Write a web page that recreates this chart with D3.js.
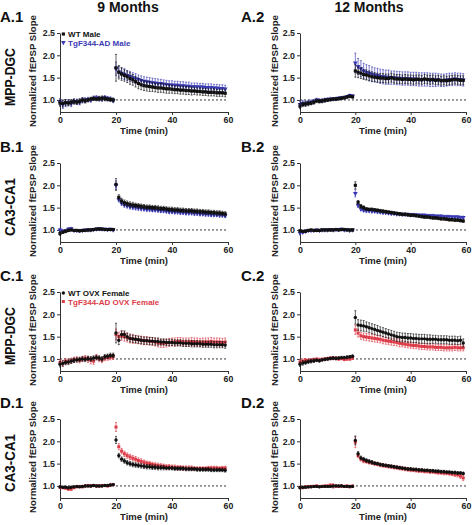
<!DOCTYPE html>
<html>
<head>
<meta charset="utf-8">
<script src="https://cdn.jsdelivr.net/npm/d3@7"></script>
<style>
  body { margin: 0; background: #fff; }
  text { font-family: "Liberation Sans", Arial, sans-serif; font-weight: bold; }
</style>
</head>
<body>
<svg id="fig" width="474" height="525"></svg>
<script>
// time points (min): 20 baseline + 40 after tetanus
const minutes = [
  0,1,2,3,4,5,6,7,8,9,
  10,11,12,13,14,15,16,17,18,19,
  20,21,22,23,24,25,26,27,28,29,
  30,31,32,33,34,35,36,37,38,39,
  40,41,42,43,44,45,46,47,48,49,
  50,51,52,53,54,55,56,57,58,59
];
const xTicks = [0, 20, 40, 60];
const yTicks = [1.0, 1.5, 2.0, 2.5];
const columnTitles = ["9 Months", "12 Months"];
const rowTitles = ["MPP-DGC", "CA3-CA1", "MPP-DGC", "CA3-CA1"];
const maleLegend = ["WT Male", "TgF344-AD Male"];
const femaleLegend = ["WT OVX Female", "TgF344-AD OVX Female"];

// ---- A.1  9 months, MPP-DGC, males
const a1Wt = [
  0.93,0.92,0.94,0.93,0.95,0.96,0.95,0.97,1.00,0.98,
  1.00,1.02,1.03,1.02,1.03,1.04,1.03,1.02,1.01,1.00,
  1.72,1.62,1.58,1.55,1.52,1.48,1.45,1.41,1.37,1.34,
  1.32,1.31,1.30,1.29,1.28,1.27,1.27,1.26,1.25,1.25,
  1.24,1.23,1.23,1.22,1.22,1.21,1.21,1.20,1.20,1.19,
  1.19,1.18,1.18,1.17,1.17,1.17,1.16,1.16,1.16,1.15
];
const a1WtSem = [
  0.07,0.08,0.07,0.06,0.06,0.05,0.05,0.06,0.05,0.05,
  0.04,0.04,0.04,0.04,0.05,0.05,0.05,0.04,0.04,0.04,
  0.30,0.15,0.14,0.13,0.13,0.13,0.12,0.12,0.12,0.11,
  0.11,0.11,0.11,0.10,0.10,0.10,0.10,0.10,0.10,0.10,
  0.09,0.09,0.09,0.09,0.09,0.09,0.09,0.09,0.08,0.08,
  0.08,0.08,0.08,0.08,0.08,0.08,0.08,0.08,0.08,0.08
];
const a1Tg = [
  0.95,0.90,0.93,0.94,0.92,0.97,0.96,0.95,0.99,1.00,
  1.01,1.00,1.04,1.05,1.03,1.02,1.05,1.03,1.02,0.99,
  1.70,1.63,1.60,1.58,1.55,1.53,1.50,1.48,1.46,1.44,
  1.42,1.41,1.40,1.39,1.38,1.37,1.37,1.36,1.35,1.34,
  1.34,1.33,1.33,1.32,1.32,1.31,1.31,1.30,1.30,1.30,
  1.29,1.29,1.28,1.28,1.28,1.27,1.27,1.26,1.26,1.25
];
const a1TgSem = [
  0.08,0.09,0.08,0.07,0.07,0.06,0.06,0.06,0.06,0.05,
  0.05,0.05,0.05,0.05,0.05,0.05,0.05,0.05,0.05,0.05,
  0.15,0.12,0.12,0.12,0.11,0.11,0.11,0.11,0.10,0.10,
  0.10,0.10,0.10,0.10,0.10,0.10,0.09,0.09,0.09,0.09,
  0.09,0.09,0.09,0.09,0.09,0.09,0.09,0.08,0.08,0.08,
  0.08,0.08,0.08,0.08,0.08,0.08,0.08,0.08,0.08,0.08
];

// ---- A.2  12 months, MPP-DGC, males
const a2Wt = [
  0.86,0.90,0.91,0.92,0.93,0.95,0.98,0.97,0.98,0.99,
  1.00,1.01,1.02,1.02,1.03,1.04,1.05,1.07,1.08,1.07,
  1.65,1.62,1.60,1.57,1.56,1.54,1.52,1.51,1.50,1.49,
  1.49,1.48,1.48,1.50,1.48,1.47,1.47,1.46,1.47,1.46,
  1.46,1.45,1.46,1.46,1.45,1.47,1.46,1.45,1.46,1.44,
  1.45,1.43,1.44,1.43,1.44,1.45,1.46,1.45,1.44,1.44
];
const a2WtSem = [
  0.06,0.05,0.05,0.05,0.04,0.04,0.04,0.04,0.04,0.04,
  0.03,0.03,0.03,0.03,0.03,0.03,0.03,0.03,0.03,0.03,
  0.14,0.12,0.12,0.11,0.11,0.11,0.11,0.10,0.10,0.10,
  0.10,0.10,0.10,0.10,0.10,0.10,0.10,0.10,0.10,0.10,
  0.10,0.10,0.10,0.10,0.10,0.10,0.10,0.10,0.10,0.10,
  0.10,0.10,0.10,0.10,0.10,0.10,0.10,0.10,0.10,0.10
];
const a2Tg = [
  0.90,0.93,0.92,0.94,0.95,0.96,1.00,0.99,0.98,1.00,
  1.01,1.02,1.02,1.03,1.04,1.05,1.06,1.07,1.10,1.09,
  1.83,1.75,1.70,1.65,1.62,1.60,1.58,1.56,1.55,1.53,
  1.52,1.51,1.51,1.50,1.50,1.49,1.49,1.48,1.48,1.48,
  1.47,1.47,1.47,1.46,1.46,1.46,1.46,1.45,1.45,1.45,
  1.45,1.44,1.44,1.45,1.46,1.46,1.47,1.46,1.46,1.45
];
const a2TgSem = [
  0.07,0.06,0.06,0.05,0.05,0.05,0.04,0.04,0.04,0.04,
  0.04,0.04,0.03,0.03,0.03,0.03,0.03,0.03,0.03,0.03,
  0.22,0.18,0.18,0.17,0.17,0.17,0.16,0.16,0.16,0.16,
  0.16,0.16,0.16,0.15,0.15,0.15,0.15,0.15,0.15,0.15,
  0.15,0.15,0.15,0.15,0.15,0.15,0.15,0.15,0.15,0.15,
  0.14,0.14,0.14,0.14,0.14,0.14,0.14,0.14,0.14,0.14
];

// ---- B.1  9 months, CA3-CA1, males
const b1Wt = [
  0.92,0.95,0.97,0.99,1.00,0.99,0.99,0.98,0.99,0.99,
  1.00,1.00,1.01,1.02,1.02,1.02,1.01,1.01,1.01,1.01,
  2.02,1.73,1.65,1.61,1.59,1.57,1.56,1.55,1.54,1.53,
  1.52,1.51,1.51,1.50,1.50,1.49,1.48,1.48,1.47,1.46,
  1.46,1.45,1.45,1.44,1.44,1.43,1.43,1.43,1.42,1.42,
  1.41,1.41,1.40,1.40,1.39,1.39,1.38,1.38,1.37,1.36
];
const b1WtSem = [
  0.04,0.03,0.03,0.03,0.02,0.02,0.02,0.02,0.02,0.02,
  0.02,0.02,0.02,0.02,0.02,0.02,0.02,0.02,0.02,0.02,
  0.13,0.06,0.06,0.06,0.06,0.06,0.06,0.05,0.05,0.05,
  0.05,0.05,0.05,0.05,0.05,0.05,0.05,0.05,0.05,0.05,
  0.05,0.05,0.05,0.05,0.05,0.05,0.05,0.05,0.05,0.05,
  0.05,0.05,0.05,0.05,0.05,0.05,0.05,0.05,0.05,0.05
];
const b1Tg = [
  1.00,0.97,0.98,1.02,1.03,0.99,0.99,0.99,0.99,1.00,
  1.00,1.00,1.01,1.02,1.03,1.02,1.02,1.01,1.02,1.00,
  2.00,1.68,1.60,1.56,1.54,1.52,1.51,1.50,1.49,1.48,
  1.47,1.46,1.46,1.45,1.45,1.44,1.43,1.43,1.42,1.41,
  1.41,1.40,1.40,1.39,1.39,1.38,1.38,1.38,1.37,1.37,
  1.36,1.36,1.35,1.35,1.34,1.34,1.34,1.33,1.33,1.32
];
const b1TgSem = [
  0.04,0.04,0.03,0.03,0.03,0.02,0.02,0.02,0.02,0.02,
  0.02,0.02,0.02,0.02,0.02,0.02,0.02,0.02,0.02,0.02,
  0.10,0.05,0.05,0.05,0.05,0.05,0.05,0.05,0.05,0.05,
  0.04,0.04,0.04,0.04,0.04,0.04,0.04,0.04,0.04,0.04,
  0.04,0.04,0.04,0.04,0.04,0.04,0.04,0.04,0.04,0.04,
  0.04,0.04,0.04,0.04,0.04,0.04,0.04,0.04,0.04,0.04
];

// ---- B.2  12 months, CA3-CA1, males
const b2Wt = [
  0.98,0.97,0.97,0.99,1.00,0.99,0.99,0.99,1.00,1.00,
  1.00,1.00,1.00,1.01,1.00,1.01,1.01,1.00,1.00,1.00,
  2.00,1.62,1.53,1.50,1.47,1.46,1.46,1.45,1.44,1.43,
  1.42,1.41,1.40,1.39,1.38,1.37,1.36,1.35,1.35,1.34,
  1.33,1.33,1.32,1.31,1.30,1.29,1.29,1.28,1.27,1.27,
  1.26,1.25,1.25,1.24,1.23,1.23,1.22,1.22,1.21,1.20
];
const b2WtSem = [
  0.03,0.02,0.02,0.02,0.02,0.02,0.02,0.02,0.02,0.02,
  0.02,0.02,0.02,0.02,0.02,0.02,0.02,0.02,0.02,0.02,
  0.08,0.04,0.04,0.04,0.03,0.03,0.03,0.03,0.03,0.03,
  0.03,0.03,0.03,0.03,0.03,0.03,0.03,0.03,0.03,0.03,
  0.03,0.03,0.03,0.03,0.03,0.03,0.03,0.03,0.03,0.03,
  0.03,0.03,0.03,0.03,0.03,0.03,0.03,0.03,0.03,0.03
];
const b2Tg = [
  0.93,0.95,0.97,0.99,0.99,0.99,1.00,0.99,1.00,1.00,
  1.00,1.01,1.00,1.01,1.01,1.02,1.00,1.01,0.99,1.00,
  1.82,1.55,1.47,1.44,1.43,1.43,1.42,1.42,1.41,1.40,
  1.39,1.39,1.38,1.37,1.37,1.36,1.36,1.35,1.35,1.35,
  1.34,1.34,1.34,1.33,1.33,1.33,1.32,1.32,1.32,1.31,
  1.31,1.31,1.30,1.30,1.30,1.29,1.29,1.29,1.28,1.28
];
const b2TgSem = [
  0.04,0.03,0.03,0.02,0.02,0.02,0.02,0.02,0.02,0.02,
  0.02,0.02,0.02,0.02,0.02,0.02,0.02,0.02,0.02,0.02,
  0.08,0.04,0.04,0.03,0.03,0.03,0.03,0.03,0.03,0.03,
  0.03,0.03,0.03,0.03,0.03,0.03,0.03,0.03,0.03,0.03,
  0.03,0.03,0.03,0.03,0.03,0.03,0.03,0.03,0.03,0.03,
  0.03,0.03,0.03,0.03,0.03,0.03,0.03,0.03,0.03,0.03
];

// ---- C.1  9 months, MPP-DGC, OVX females
const c1Wt = [
  0.88,0.90,0.92,0.93,0.95,0.97,0.98,0.99,1.00,0.99,
  1.01,1.00,1.02,1.03,1.02,1.00,1.05,1.06,1.08,1.08,
  1.58,1.42,1.55,1.55,1.50,1.46,1.45,1.44,1.43,1.42,
  1.41,1.41,1.40,1.40,1.39,1.39,1.38,1.38,1.37,1.37,
  1.37,1.36,1.36,1.36,1.35,1.35,1.35,1.34,1.34,1.34,
  1.34,1.33,1.33,1.33,1.33,1.32,1.32,1.32,1.32,1.31
];
const c1WtSem = [
  0.06,0.06,0.05,0.05,0.05,0.05,0.05,0.05,0.05,0.05,
  0.05,0.05,0.05,0.05,0.05,0.05,0.05,0.05,0.05,0.05,
  0.22,0.10,0.08,0.08,0.08,0.08,0.08,0.08,0.08,0.08,
  0.08,0.08,0.08,0.08,0.08,0.08,0.07,0.07,0.07,0.07,
  0.07,0.07,0.07,0.07,0.07,0.07,0.07,0.07,0.07,0.07,
  0.07,0.07,0.07,0.07,0.07,0.07,0.07,0.07,0.07,0.07
];
const c1Tg = [
  0.92,0.90,0.95,0.94,0.96,0.98,0.99,0.97,1.00,1.02,
  0.99,0.97,0.95,1.04,1.00,0.98,1.02,1.03,1.04,1.05,
  1.55,1.50,1.52,1.50,1.48,1.46,1.45,1.44,1.43,1.42,
  1.41,1.41,1.40,1.39,1.38,1.36,1.35,1.35,1.36,1.37,
  1.38,1.38,1.39,1.39,1.38,1.38,1.38,1.39,1.38,1.38,
  1.37,1.38,1.38,1.38,1.39,1.38,1.38,1.38,1.37,1.38
];
const c1TgSem = [
  0.06,0.07,0.06,0.06,0.06,0.06,0.06,0.06,0.06,0.06,
  0.07,0.08,0.07,0.06,0.06,0.06,0.06,0.06,0.06,0.06,
  0.12,0.10,0.10,0.10,0.10,0.10,0.10,0.09,0.09,0.09,
  0.09,0.09,0.09,0.09,0.09,0.09,0.09,0.09,0.09,0.09,
  0.09,0.09,0.09,0.09,0.09,0.09,0.09,0.09,0.09,0.09,
  0.09,0.09,0.09,0.09,0.09,0.09,0.09,0.09,0.09,0.09
];

// ---- C.2  12 months, MPP-DGC, OVX females
const c2Wt = [
  0.88,0.91,0.92,0.94,0.95,0.96,0.97,0.96,0.98,0.99,
  1.00,1.01,1.02,1.01,1.02,1.03,1.03,1.04,1.05,1.06,
  1.93,1.76,1.75,1.74,1.72,1.70,1.68,1.66,1.64,1.62,
  1.60,1.58,1.56,1.54,1.52,1.50,1.49,1.48,1.48,1.47,
  1.47,1.46,1.46,1.45,1.45,1.45,1.44,1.44,1.44,1.44,
  1.43,1.43,1.43,1.43,1.42,1.42,1.42,1.41,1.42,1.36
];
const c2WtSem = [
  0.05,0.05,0.04,0.04,0.04,0.04,0.03,0.03,0.03,0.03,
  0.03,0.03,0.03,0.03,0.03,0.03,0.03,0.03,0.03,0.03,
  0.15,0.12,0.12,0.12,0.11,0.11,0.11,0.11,0.11,0.10,
  0.10,0.10,0.10,0.10,0.10,0.10,0.10,0.10,0.10,0.10,
  0.10,0.10,0.10,0.10,0.10,0.10,0.10,0.10,0.09,0.09,
  0.09,0.09,0.09,0.09,0.09,0.09,0.09,0.09,0.09,0.09
];
const c2Tg = [
  0.93,0.95,0.97,0.96,0.97,0.98,0.99,0.98,0.99,1.00,
  1.01,1.02,1.01,1.02,1.00,1.01,0.99,1.00,1.00,1.02,
  1.65,1.58,1.52,1.50,1.49,1.48,1.47,1.46,1.45,1.44,
  1.42,1.41,1.40,1.39,1.38,1.37,1.35,1.34,1.33,1.32,
  1.31,1.30,1.30,1.29,1.28,1.28,1.27,1.27,1.27,1.26,
  1.26,1.26,1.25,1.25,1.25,1.25,1.26,1.25,1.25,1.25
];
const c2TgSem = [
  0.05,0.05,0.04,0.04,0.04,0.04,0.04,0.04,0.03,0.03,
  0.03,0.03,0.03,0.03,0.03,0.03,0.03,0.03,0.03,0.03,
  0.10,0.09,0.08,0.08,0.08,0.08,0.08,0.08,0.08,0.08,
  0.08,0.08,0.08,0.08,0.08,0.08,0.08,0.07,0.07,0.07,
  0.07,0.07,0.07,0.07,0.07,0.07,0.07,0.07,0.07,0.07,
  0.07,0.07,0.07,0.07,0.07,0.07,0.07,0.07,0.07,0.07
];

// ---- D.1  9 months, CA3-CA1, OVX females
const d1Wt = [
  0.98,0.97,0.97,0.96,0.97,0.98,0.99,0.98,0.99,1.00,
  1.00,1.00,1.01,1.00,1.00,1.00,1.01,1.01,1.02,1.03,
  2.03,1.68,1.60,1.56,1.52,1.50,1.48,1.47,1.46,1.45,
  1.44,1.43,1.43,1.42,1.42,1.41,1.41,1.41,1.40,1.40,
  1.40,1.39,1.39,1.39,1.39,1.38,1.38,1.38,1.38,1.37,
  1.37,1.37,1.37,1.37,1.36,1.36,1.36,1.36,1.36,1.35
];
const d1WtSem = [
  0.02,0.02,0.02,0.02,0.02,0.02,0.02,0.02,0.02,0.02,
  0.02,0.02,0.02,0.02,0.02,0.02,0.02,0.02,0.02,0.02,
  0.08,0.05,0.05,0.05,0.05,0.05,0.05,0.05,0.05,0.05,
  0.05,0.05,0.05,0.05,0.05,0.05,0.05,0.05,0.04,0.04,
  0.04,0.04,0.04,0.04,0.04,0.04,0.04,0.04,0.04,0.04,
  0.04,0.04,0.04,0.04,0.04,0.04,0.04,0.04,0.04,0.04
];
const d1Tg = [
  0.97,0.96,0.95,0.93,0.93,0.96,0.98,0.99,0.98,1.00,
  1.01,1.00,1.01,1.00,1.00,1.01,1.01,1.00,1.02,1.03,
  2.32,1.88,1.78,1.72,1.68,1.65,1.62,1.60,1.57,1.55,
  1.53,1.51,1.50,1.48,1.47,1.46,1.45,1.44,1.43,1.43,
  1.42,1.42,1.41,1.41,1.40,1.40,1.40,1.40,1.39,1.39,
  1.39,1.39,1.39,1.40,1.40,1.40,1.40,1.39,1.40,1.40
];
const d1TgSem = [
  0.02,0.02,0.02,0.03,0.03,0.02,0.02,0.02,0.02,0.02,
  0.02,0.02,0.02,0.02,0.02,0.02,0.02,0.02,0.02,0.02,
  0.10,0.07,0.06,0.06,0.06,0.06,0.06,0.06,0.06,0.06,
  0.05,0.05,0.05,0.05,0.05,0.05,0.05,0.05,0.05,0.05,
  0.05,0.05,0.05,0.05,0.05,0.05,0.05,0.05,0.04,0.04,
  0.04,0.04,0.04,0.04,0.04,0.04,0.04,0.04,0.04,0.04
];

// ---- D.2  12 months, CA3-CA1, OVX females
const d2Wt = [
  0.96,0.97,0.97,0.98,0.98,0.99,0.99,0.98,0.99,0.99,
  0.99,0.99,1.00,1.00,1.00,1.00,0.99,0.99,0.99,0.99,
  2.02,1.72,1.63,1.60,1.57,1.55,1.53,1.51,1.50,1.48,
  1.47,1.46,1.45,1.44,1.43,1.42,1.41,1.40,1.39,1.38,
  1.38,1.37,1.37,1.36,1.36,1.35,1.35,1.34,1.34,1.33,
  1.33,1.32,1.32,1.31,1.31,1.30,1.30,1.29,1.29,1.28
];
const d2WtSem = [
  0.02,0.02,0.02,0.02,0.02,0.02,0.02,0.02,0.02,0.02,
  0.02,0.02,0.02,0.02,0.02,0.02,0.02,0.02,0.02,0.02,
  0.10,0.05,0.04,0.04,0.04,0.04,0.04,0.03,0.03,0.03,
  0.03,0.03,0.03,0.03,0.03,0.03,0.03,0.03,0.03,0.03,
  0.03,0.03,0.03,0.03,0.03,0.03,0.03,0.03,0.03,0.03,
  0.03,0.03,0.03,0.03,0.03,0.03,0.03,0.03,0.03,0.03
];
const d2Tg = [
  0.97,0.96,0.98,0.98,0.99,0.99,1.00,0.99,0.99,1.00,
  1.00,1.02,1.00,1.00,0.99,1.00,0.99,1.00,0.98,1.00,
  1.98,1.68,1.60,1.56,1.55,1.53,1.52,1.50,1.49,1.47,
  1.46,1.45,1.44,1.43,1.42,1.41,1.40,1.39,1.38,1.37,
  1.36,1.36,1.35,1.34,1.34,1.33,1.33,1.32,1.32,1.31,
  1.30,1.30,1.29,1.29,1.28,1.27,1.26,1.25,1.22,1.18
];
const d2TgSem = [
  0.02,0.02,0.02,0.02,0.02,0.02,0.02,0.02,0.02,0.02,
  0.02,0.02,0.05,0.02,0.02,0.02,0.02,0.02,0.02,0.02,
  0.12,0.05,0.04,0.04,0.04,0.04,0.04,0.04,0.04,0.04,
  0.04,0.04,0.04,0.04,0.04,0.04,0.04,0.04,0.04,0.04,
  0.04,0.04,0.04,0.04,0.04,0.04,0.04,0.04,0.04,0.04,
  0.04,0.04,0.04,0.04,0.04,0.04,0.05,0.05,0.05,0.06
];

const BLUE = "#3a3ab4";
const RED = "#dd3b47";

const svg = d3.select("#fig");
const colX = [[60, 228], [300, 466]];   // pixel range of 0..60 min per column
const rowTop = [33, 163, 292, 419];      // pixel y of 2.5 per row

const panels = [
  { label: "A.1", row: 0, col: 0, wt: a1Wt, wtSem: a1WtSem, tg: a1Tg, tgSem: a1TgSem, sex: "m", legend: maleLegend },
  { label: "A.2", row: 0, col: 1, wt: a2Wt, wtSem: a2WtSem, tg: a2Tg, tgSem: a2TgSem, sex: "m" },
  { label: "B.1", row: 1, col: 0, wt: b1Wt, wtSem: b1WtSem, tg: b1Tg, tgSem: b1TgSem, sex: "m" },
  { label: "B.2", row: 1, col: 1, wt: b2Wt, wtSem: b2WtSem, tg: b2Tg, tgSem: b2TgSem, sex: "m" },
  { label: "C.1", row: 2, col: 0, wt: c1Wt, wtSem: c1WtSem, tg: c1Tg, tgSem: c1TgSem, sex: "f", legend: femaleLegend },
  { label: "C.2", row: 2, col: 1, wt: c2Wt, wtSem: c2WtSem, tg: c2Tg, tgSem: c2TgSem, sex: "f" },
  { label: "D.1", row: 3, col: 0, wt: d1Wt, wtSem: d1WtSem, tg: d1Tg, tgSem: d1TgSem, sex: "f" },
  { label: "D.2", row: 3, col: 1, wt: d2Wt, wtSem: d2WtSem, tg: d2Tg, tgSem: d2TgSem, sex: "f" }
];

// marker styles per sex: WT always black, Tg blue (males) or red (females)
const markers = {
  m: { wt: { sym: d3.symbolSquare, size: 10, rot: 0, color: "#111" },
       tg: { sym: d3.symbolTriangle, size: 10, rot: 180, color: BLUE } },
  f: { wt: { sym: d3.symbolCircle, size: 9, rot: 0, color: "#111" },
       tg: { sym: d3.symbolSquare, size: 9, rot: 0, color: RED } }
};

let drawSeries = (g, x, y, means, sems, mk) => {
  const pts = minutes.map((t, i) => ({ t, m: means[i], s: sems[i] }));
  const bars = g.append("g")
    .attr("stroke", mk.color)
    .attr("stroke-width", 0.65);
  bars.selectAll(".eb")
    .data(pts)
    .enter()
    .append("path")
    .attr("class", "eb")
    .attr("fill", "none")
    .attr("d", d => {
      const cx = x(d.t), y0 = y(d.m - d.s), y1 = y(d.m + d.s);
      return `M${cx},${y0}V${y1}M${cx - 1},${y1}H${cx + 1}M${cx - 1},${y0}H${cx + 1}`;
    });
  g.append("g").selectAll(".pt")
    .data(pts)
    .enter()
    .append("path")
    .attr("class", "pt")
    .attr("d", d3.symbol().type(mk.sym).size(mk.size))
    .attr("transform", d => `translate(${x(d.t)},${y(d.m)}) rotate(${mk.rot})`)
    .attr("fill", mk.color);
};

panels.forEach(p => {
  const top = rowTop[p.row];
  const x = d3.scaleLinear().domain([0, 60]).range(colX[p.col]);
  const y = d3.scaleLinear().domain([0.73, 2.5]).range([top + 79, top]);
  const g = svg.append("g");

  // dashed baseline at 1.0
  g.append("line")
    .attr("x1", x(0)).attr("x2", x(60))
    .attr("y1", y(1)).attr("y2", y(1))
    .attr("stroke", "#222")
    .attr("stroke-width", 0.9)
    .attr("stroke-dasharray", "2,2");

  const xAxis = g.append("g")
    .attr("transform", `translate(0,${y(0.73)})`)
    .call(d3.axisBottom(x).tickValues(xTicks).tickSize(3).tickSizeOuter(0).tickPadding(2).tickFormat(d3.format("d")));
  const yAxis = g.append("g")
    .attr("transform", `translate(${x(0)},0)`)
    .call(d3.axisLeft(y).tickValues(yTicks).tickSize(3).tickSizeOuter(0).tickPadding(2).tickFormat(d3.format(".1f")));
  [xAxis, yAxis].forEach(a => {
    a.attr("font-family", null).attr("font-size", null);
    a.selectAll("path, line").attr("stroke", "#333").attr("stroke-width", 1);
    a.selectAll("text").attr("fill", "#222").style("font-size", "8.8px");
  });

  drawSeries(g, x, y, p.tg, p.tgSem, markers[p.sex].tg);
  drawSeries(g, x, y, p.wt, p.wtSem, markers[p.sex].wt);

  // axis titles
  g.append("text")
    .attr("x", (x(0) + x(60)) / 2)
    .attr("y", top + 101)
    .attr("text-anchor", "middle")
    .style("font-size", "9.5px")
    .attr("fill", "#222")
    .text("Time (min)");
  const yl = p.col === 0 ? 36 : 278;
  g.append("text")
    .attr("transform", `translate(${yl},${top + 38}) rotate(-90)`)
    .attr("text-anchor", "middle")
    .style("font-size", "9.6px")
    .attr("fill", "#222")
    .text("Normalized fEPSP Slope");

  // panel label
  g.append("text")
    .attr("x", p.col === 0 ? 0 : 241)
    .attr("y", top - 11)
    .style("font-size", "15px")
    .attr("fill", "#111")
    .text(p.label);

  // legend
  if (p.legend) {
    const mk = markers[p.sex];
    [mk.wt, mk.tg].forEach((m, i) => {
      const ly = top + 1 + i * 8.5;
      g.append("path")
        .attr("d", d3.symbol().type(m.sym).size(m.size))
        .attr("transform", `translate(${x(1.2)},${ly}) rotate(${m.rot})`)
        .attr("fill", m.color);
      g.append("text")
        .attr("x", x(2.9))
        .attr("y", ly + 3)
        .style("font-size", "8px")
        .attr("fill", m.color)
        .text(p.legend[i]);
    });
  }
});

// row titles (left margin, rotated)
rowTitles.forEach((t, i) => {
  svg.append("text")
    .attr("transform", `translate(15,${rowTop[i] + 44}) rotate(-90)`)
    .attr("text-anchor", "middle")
    .style("font-size", "14px")
    .attr("textLength", 58)
    .attr("lengthAdjust", "spacingAndGlyphs")
    .attr("fill", "#111")
    .text(t);
});

// column titles
columnTitles.forEach((t, i) => {
  svg.append("text")
    .attr("x", i === 0 ? 128 : 369)
    .attr("y", 12)
    .attr("text-anchor", "middle")
    .style("font-size", "14px")
    .attr("fill", "#111")
    .text(t);
});
</script>
</body>
</html>
